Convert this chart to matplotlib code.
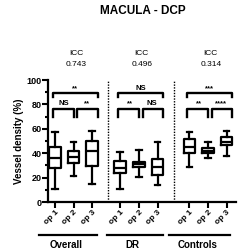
import matplotlib
matplotlib.use('Agg')
import matplotlib.pyplot as plt
import matplotlib.transforms as mtransforms
from matplotlib.ticker import MultipleLocator

plt.rcParams['font.family'] = ['Liberation Sans', 'DejaVu Sans']
plt.rcParams['font.weight'] = 'bold'

# box stats (whisker low, q1, median, q3, whisker high)
labels = ['op 1', 'op 2', 'op 3'] * 3
wlo = [11, 21, 14.5, 10.7, 20.2, 14, 29, 36.3, 38]
q1 = [27.6, 32.2, 29.5, 24, 28.4, 22.1, 39.9, 39.9, 46.7]
med = [35.8, 37, 42, 28.1, 31.1, 29, 44.8, 41.8, 49.4]
q3 = [44.8, 41.8, 50.3, 33.9, 33, 35, 51.6, 44, 53.5]
whi = [57.6, 49, 58.4, 41.3, 42.6, 48.9, 57.6, 49.4, 58.4]

groups = ['Overall', 'DR', 'Controls']
icc = ['0.743', '0.496', '0.314']
sig_big = ['**', 'NS', '***']
sig_12 = ['NS', '**', '**']
sig_23 = ['**', 'NS', '****']

pos = [0, 1, 2, 3.5, 4.5, 5.5, 7.2, 8.2, 9.2]
dividers = [2.83, 6.4]

fig = plt.figure(figsize=(2.5, 2.5), dpi=100)
ax = fig.add_axes([0.192, 0.192, 0.752, 0.488])

stats = []
for i in range(len(med)):
    stats.append({'whislo': wlo[i], 'q1': q1[i], 'med': med[i], 'q3': q3[i],
                  'whishi': whi[i], 'fliers': []})
lw = 1.6
ax.bxp(stats, positions=pos, widths=0.62, showfliers=False,
       boxprops=dict(color='black', linewidth=lw),
       medianprops=dict(color='black', linewidth=lw),
       whiskerprops=dict(color='black', linewidth=lw),
       capprops=dict(color='black', linewidth=lw),
       capwidths=0.3)

for d in dividers:
    ax.plot([d, d], [0, 100], color='black', linestyle=(0, (1, 1)), linewidth=1.0)

ax.set_xlim(-0.37, 9.7)
ax.set_ylim(0, 100)
ax.spines['top'].set_visible(False)
ax.spines['right'].set_visible(False)
ax.spines['left'].set_linewidth(1.6)
ax.spines['bottom'].set_linewidth(1.6)
ax.yaxis.set_major_locator(MultipleLocator(20))
ax.yaxis.set_minor_locator(MultipleLocator(10))
ax.tick_params(axis='y', which='major', length=4, width=1.5, labelsize=6.5, pad=0.5)
ax.tick_params(axis='y', which='minor', length=2.5, width=1.5)
ax.tick_params(axis='x', length=4, width=1.5, labelsize=6, pad=1)
for t in ax.get_yticklabels():
    t.set_fontweight('bold')
ax.set_xticks(pos)
ax.set_xticklabels(labels, rotation=45, ha='right', rotation_mode='anchor', fontweight='bold')
ax.set_ylabel('Vessel density (%)', fontsize=7, fontweight='bold', labelpad=2)

# significance brackets and ICC
blw = 1.7
for g in range(3):
    a, b, c = pos[3 * g], pos[3 * g + 1], pos[3 * g + 2]
    x0 = a - 0.1
    x3 = c + 0.3
    ax.plot([x0, x0, x3, x3], [86, 89, 89, 86], color='black', linewidth=blw, clip_on=False)
    ax.text((x0 + x3) / 2, 93, sig_big[g], ha='center', va='center', fontsize=5.5, fontweight='bold')
    xm = b + 0.1
    ax.plot([x0, x0, xm - 0.1, xm - 0.1], [70, 76, 76, 70], color='black', linewidth=blw)
    ax.plot([xm + 0.1, xm + 0.1, x3, x3], [70, 76, 76, 70], color='black', linewidth=blw)
    ax.text((x0 + xm) / 2, 80.5, sig_12[g], ha='center', va='center', fontsize=5.5, fontweight='bold')
    ax.text((xm + x3) / 2, 80.5, sig_23[g], ha='center', va='center', fontsize=5.5, fontweight='bold')
    ax.text(b + 0.15, 122, 'ICC', ha='center', va='center', fontsize=6,
            fontweight='normal', clip_on=False)
    ax.text(b + 0.15, 113, icc[g], ha='center', va='center', fontsize=6,
            fontweight='normal', clip_on=False)

# group underlines and names below the axis
trans = mtransforms.blended_transform_factory(ax.transData, ax.transAxes)
spans = [(-0.86, 2.25), (2.78, 5.77), (6.1, 9.36)]
for g in range(3):
    s0, s1 = spans[g]
    ax.plot([s0, s1], [-0.27, -0.27], color='black', linewidth=1.6,
            transform=trans, clip_on=False)
    ax.text((s0 + s1) / 2 - 0.1, -0.35, groups[g], transform=trans, ha='center', va='center',
            fontsize=7, fontweight='bold')

fig.text(0.57, 0.958, 'MACULA - DCP', ha='center', va='center', fontsize=8.5, fontweight='bold')

fig.savefig('out.png', dpi=100)
